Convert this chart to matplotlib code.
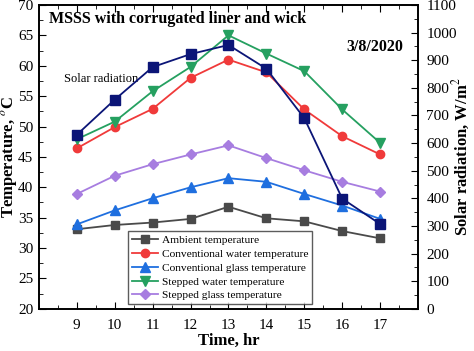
import matplotlib
matplotlib.use("Agg")
import matplotlib.pyplot as plt
from matplotlib.ticker import MultipleLocator

plt.rcParams['font.family'] = ['Liberation Serif', 'DejaVu Serif']
plt.rcParams['mathtext.fontset'] = 'stix'

hours = [9, 10, 11, 12, 13, 14, 15, 16, 17]
ambient = [33.1, 33.8, 34.2, 34.8, 36.8, 34.9, 34.4, 32.8, 31.6]
conv_water = [46.4, 49.9, 52.9, 58.0, 61.0, 58.9, 52.8, 48.4, 45.4]
conv_glass = [33.9, 36.2, 38.2, 40.0, 41.5, 40.9, 38.9, 37.0, 34.8]
step_water = [47.9, 50.8, 55.8, 59.8, 65.0, 62.0, 59.1, 52.8, 47.3]
step_glass = [38.9, 41.9, 43.8, 45.4, 46.9, 44.8, 42.8, 40.9, 39.3]
solar = [630, 757, 875, 922, 955, 869, 690, 399, 307]

fig = plt.figure(figsize=(4.74, 3.51), dpi=100)
ax = fig.add_axes([0.082, 0.12, 0.80, 0.866])
ax2 = ax.twinx()

ms = 6
ax.plot(hours, ambient, '-s', color='#4a4a4a', ms=ms, lw=1.3, label='Ambient temperature')
ax.plot(hours, conv_water, '-o', color='#f03a3a', ms=ms, lw=1.3, label='Conventional water temperature')
ax.plot(hours, conv_glass, '-^', color='#1f6fdf', ms=ms + 1, lw=1.3, label='Conventional glass temperature')
ax.plot(hours, step_water, '-v', color='#25a060', ms=ms + 1, lw=1.3, label='Stepped water temperature')
ax.plot(hours, step_glass, '-D', color='#a77de0', ms=ms - 0.5, lw=1.3, label='Stepped glass temperature')
ax2.plot(hours, solar, '-s', color='#0b1577', ms=ms + 1, lw=1.3)

ax.set_xlim(8, 18)
ax.set_ylim(20, 70)
ax2.set_ylim(0, 1100)
ax.set_xticks(hours)
ax.xaxis.set_minor_locator(MultipleLocator(0.5))
ax.yaxis.set_major_locator(MultipleLocator(5))
ax.yaxis.set_minor_locator(MultipleLocator(2.5))
ax2.yaxis.set_major_locator(MultipleLocator(100))
ax2.yaxis.set_minor_locator(MultipleLocator(50))

ax.tick_params(axis='x', which='both', direction='in', top=True, labelsize=11, pad=7)
ax.tick_params(axis='y', which='both', direction='in', labelsize=11, pad=4)
ax2.tick_params(axis='y', which='both', direction='in', labelsize=11, pad=6)
for a in (ax, ax2):
    a.tick_params(which='major', length=5)
    a.tick_params(which='minor', length=3)
    for s in a.spines.values():
        s.set_linewidth(1.2)

ax.set_xlabel('Time, hr', fontsize=12, fontweight='bold', labelpad=1)
ax.set_ylabel('Temperature, $^o$C', fontsize=12, fontweight='bold', va='center')
ax2.set_ylabel('Solar radiation, W/m$^2$', fontsize=12, fontweight='bold', va='center')
ax.yaxis.set_label_coords(-0.08, 0.5)
ax2.yaxis.set_label_coords(1.115, 0.5)

ax.text(0.365, 0.955, 'MSSS with corrugated liner and wick', transform=ax.transAxes,
        ha='center', va='center', fontsize=11.5, fontweight='bold')
ax.text(0.96, 0.86, '3/8/2020', transform=ax.transAxes,
        ha='right', va='center', fontsize=11.5, fontweight='bold')
ax.text(0.065, 0.755, 'Solar radiation', transform=ax.transAxes,
        ha='left', va='center', fontsize=9)

leg = ax.legend(loc='lower left', bbox_to_anchor=(0.235, 0.015), fontsize=8.2,
                frameon=True, fancybox=False, edgecolor='#333333', handlelength=2.3,
                handletextpad=0.3, borderpad=0.35, labelspacing=0.33, borderaxespad=0)
leg.get_frame().set_linewidth(1.0)

fig.savefig('out.png', dpi=100)
